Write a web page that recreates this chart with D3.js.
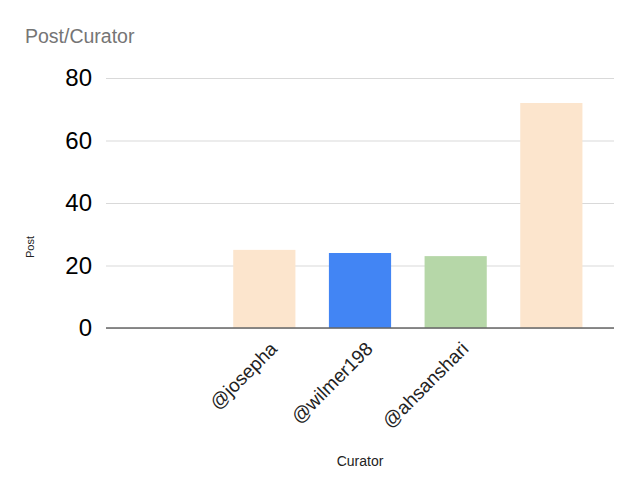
<!DOCTYPE html>
<html>
<head>
<meta charset="utf-8">
<script src="https://cdn.jsdelivr.net/npm/d3@7"></script>
<style>
  body { margin: 0; background: #fff; }
  text { font-family: Arial, "Liberation Sans", sans-serif; }
</style>
</head>
<body>
<div id="chart"></div>
<script>
// Chart data
const curators = ['', '@josepha', '@wilmer198', '@ahsanshari', ''];
const posts = [0, 25, 24, 23, 72];
const barColors = ['#fce5cd', '#fce5cd', '#4285f4', '#b6d7a8', '#fce5cd'];
const yTicks = [0, 20, 40, 60, 80];

const width = 640, height = 494;
const margin = {top: 78, right: 26, bottom: 166, left: 106};

const svg = d3.select("#chart")
    .append("svg")
    .attr("width", width)
    .attr("height", height);

const x = d3.scaleBand()
    .domain(d3.range(curators.length))
    .range([margin.left, width - margin.right])
    .paddingInner(0.35)
    .paddingOuter(0.33);

const y = d3.scaleLinear()
    .domain([0, 80])
    .range([height - margin.bottom, margin.top]);

// Title
svg.append("text")
    .attr("x", 25)
    .attr("y", 43)
    .style("font-size", "19.5px")
    .style("fill", "#757575")
    .text("Post/Curator");

// Gridlines + y labels
const yAxis = svg.append("g")
    .attr("transform", "translate(" + margin.left + ",0)")
    .call(d3.axisLeft(y)
        .tickValues(yTicks)
        .tickSize(-(width - margin.left - margin.right))
        .tickPadding(14));

yAxis.select(".domain").remove();
yAxis.selectAll(".tick line")
    .attr("stroke", "#d9d9d9");
yAxis.selectAll(".tick text")
    .style("font-size", "24px")
    .style("fill", "#000")
    .style("font-family", "Arial, 'Liberation Sans', sans-serif");

// Bars
svg.selectAll(".bar")
    .data(posts)
    .enter()
    .append("rect")
    .attr("class", "bar")
    .attr("x", (d, i) => x(i))
    .attr("y", d => y(d))
    .attr("width", x.bandwidth())
    .attr("height", d => y(0) - y(d))
    .style("fill", (d, i) => barColors[i]);

// Baseline
svg.append("line")
    .attr("x1", margin.left)
    .attr("x2", width - margin.right)
    .attr("y1", y(0))
    .attr("y2", y(0))
    .attr("stroke", "#666")
    .attr("stroke-width", 1.5);

// Rotated category labels
svg.selectAll(".cat")
    .data(curators)
    .enter()
    .append("text")
    .attr("class", "cat")
    .attr("text-anchor", "end")
    .attr("transform", (d, i) =>
        "translate(" + (x(i) + x.bandwidth() / 2 + 14) + "," + (y(0) + 22) + ") rotate(-45)")
    .style("font-size", "19px")
    .style("fill", "#222")
    .text(d => d);

// Axis titles
svg.append("text")
    .attr("x", x(2) + x.bandwidth() / 2)
    .attr("y", 466)
    .attr("text-anchor", "middle")
    .style("font-size", "14px")
    .style("fill", "#222")
    .text("Curator");

svg.append("text")
    .attr("transform", "translate(34,247) rotate(-90)")
    .attr("text-anchor", "middle")
    .style("font-size", "11px")
    .style("fill", "#222")
    .text("Post");
</script>
</body>
</html>
